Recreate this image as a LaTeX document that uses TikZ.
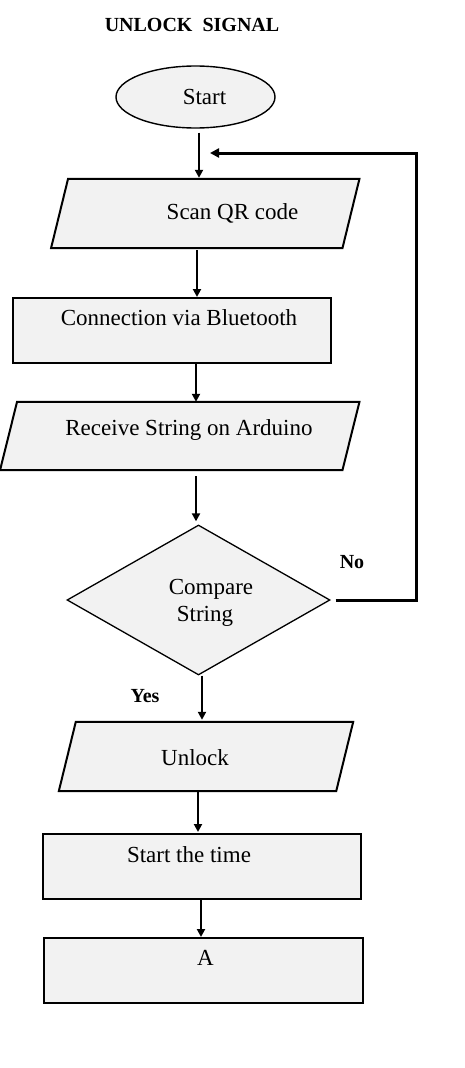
\documentclass[tikz,border=0pt]{standalone}
\usepackage{fontspec}
\setmainfont{Liberation Serif}
\usetikzlibrary{shapes.geometric,arrows.meta}
\definecolor{boxfill}{HTML}{F2F2F2}
\begin{document}
\begin{tikzpicture}[x=1pt,y=-1pt,
  box/.style={draw, line width=2pt, fill=boxfill, rectangle, minimum height=65pt, inner sep=0pt},
  pgnode/.style={rectangle, inner sep=0pt},
  pgdraw/.style={draw, line width=2pt, fill=boxfill, line join=miter},
  txt/.style={font=\fontsize{23}{27}\selectfont, anchor=base, inner sep=0pt},
  lbl/.style={font=\fontsize{20}{24}\selectfont\bfseries, anchor=base, inner sep=0pt},
  arr/.style={line width=2.2pt, -{Triangle[length=8pt,width=8pt]}},
  looparr/.style={line width=3pt, -{Triangle[length=9pt,width=9pt]}}
]
\useasboundingbox[fill=white] (0,0) rectangle (465,1068);

% shapes
\node[ellipse, draw, line width=1.4pt, fill=boxfill, minimum width=159pt, minimum height=62pt, inner sep=0pt] (start) at (195.5,97) {};
\node[pgnode, minimum width=291pt, minimum height=69pt] (scan) at (205.25,213.5) {};
\node[box, minimum width=318pt] (conn) at (172,330.5) {};
\node[pgnode, minimum width=342pt, minimum height=68pt] (recv) at (179.75,436) {};
\node[diamond, draw, line width=1.3pt, fill=boxfill, minimum width=263pt, minimum height=150pt, inner sep=0pt] (cmp) at (198.5,600) {};
\node[pgnode, minimum width=277pt, minimum height=69pt] (unlock) at (206,756.5) {};
\node[box, minimum width=318pt] (time) at (202,866.5) {};
\node[box, minimum width=319pt] (A) at (203.5,970.5) {};

% parallelogram outlines
\foreach \n in {scan,recv,unlock}{
  \draw[pgdraw] ([xshift=8.5pt]\n.north west) -- ([xshift=8.5pt]\n.north east)
    -- ([xshift=-8.5pt]\n.south east) -- ([xshift=-8.5pt]\n.south west) -- cycle;
}

% texts
\node[lbl] (title) at (192,31) {UNLOCK\ \ SIGNAL};
\node[txt] (tstart) at (204.5,104) {Start};
\node[txt] (tscan) at (232.5,219) {Scan QR code};
\node[txt] (tconn) at (179,325) {Connection via Bluetooth};
\node[txt] (trecv) at (189,435) {Receive String on Arduino};
\node[txt] (tcmp1) at (211,594) {Compare};
\node[txt] (tcmp2) at (205,621) {String};
\node[txt] (tunlock) at (195,765) {Unlock};
\node[txt] (ttime) at (189,862) {Start the time};
\node[txt] (tA) at (205.5,965) {A};
\node[lbl] (no) at (352,568) {No};
\node[lbl] (yes) at (145,702) {Yes};

% connectors
\draw[arr, shorten <=4pt, shorten >=1pt] ([xshift=3.5pt]start.south) -- ([xshift=-6.25pt]scan.north);
\draw[arr, shorten <=2pt] ([xshift=-8.25pt]scan.south) -- ([xshift=25pt]conn.north);
\draw[arr] ([xshift=24pt]conn.south) -- ([xshift=16.25pt]recv.north);
\draw[arr, shorten <=6pt, shorten >=3pt] ([xshift=16.25pt]recv.south) -- ([xshift=-2.5pt]cmp.north);
\draw[arr, shorten >=2pt] ([xshift=3.5pt]cmp.south) -- ([xshift=-4pt]unlock.north);
\draw[arr, shorten >=1pt] ([xshift=-8pt]unlock.south) -- ([xshift=-4pt]time.north);
\draw[arr] ([xshift=-1pt]time.south) -- ([xshift=-2.5pt]A.north);

\coordinate (corner) at (416,153);
\coordinate (loopend) at (210,153);
\draw[looparr, line join=miter] ([xshift=5pt]cmp.east) -| (corner) -- (loopend);
\end{tikzpicture}
\end{document}
